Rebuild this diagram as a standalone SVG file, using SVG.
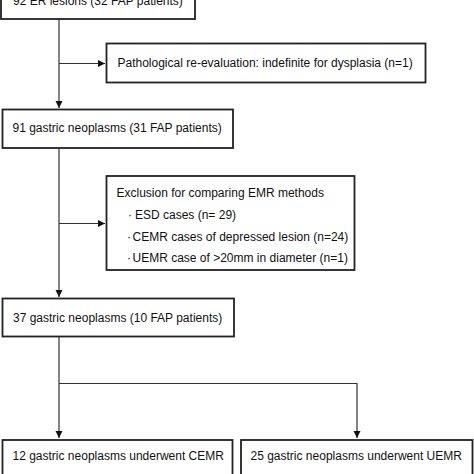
<svg xmlns="http://www.w3.org/2000/svg" width="474" height="474" viewBox="0 0 474 474">
<style>
.box{fill:#fff;stroke:#222;stroke-width:1.8}
.t{font-family:"Liberation Sans",Arial,sans-serif;font-size:12px;fill:#111}
.ln{fill:none;stroke:#333;stroke-width:1.2}
</style>
<defs>
<marker id="ah" markerWidth="8" markerHeight="8" refX="7" refY="4" orient="auto" markerUnits="userSpaceOnUse">
<path d="M0,0.5 L7,4 L0,7.5 Z" fill="#111"/>
</marker>
</defs>
<rect width="474" height="474" fill="#fff"/>
<g id="connectors">
<path class="ln" d="M59,19 V108" marker-end="url(#ah)"/>
<path class="ln" d="M59,63.5 H105" marker-end="url(#ah)"/>
<path class="ln" d="M59,148 V297" marker-end="url(#ah)"/>
<path class="ln" d="M59,223.5 H105" marker-end="url(#ah)"/>
<path class="ln" d="M59,337 V438" marker-end="url(#ah)"/>
<path class="ln" d="M59,383.5 H357 V438" marker-end="url(#ah)"/>
</g>
<g id="n1">
<rect class="box" x="1" y="-20" width="194" height="39"/>
<text class="t" x="13" y="4.5">92 ER lesions (32 FAP patients)</text>
</g>
<g id="n2">
<rect class="box" x="106.5" y="43.5" width="319" height="39"/>
<text class="t" x="117.5" y="67">Pathological re-evaluation: indefinite for dysplasia (n=1)</text>
</g>
<g id="n3">
<rect class="box" x="2.5" y="109.5" width="230.5" height="38.5"/>
<text class="t" x="12.5" y="131.5">91 gastric neoplasms (31 FAP patients)</text>
</g>
<g id="n4">
<rect class="box" x="106.5" y="176" width="248" height="94"/>
<text class="t" x="116.5" y="197">Exclusion for comparing EMR methods</text>
<text class="t" x="128" y="218.5">·<tspan x="135">ESD cases (n= 29)</tspan></text>
<text class="t" x="127" y="241">·<tspan x="132.5">CEMR cases of depressed lesion (n=24)</tspan></text>
<text class="t" x="127" y="262">·<tspan x="132.5">UEMR case of &gt;20mm in diameter (n=1)</tspan></text>
</g>
<g id="n5">
<rect class="box" x="2.5" y="298.5" width="231.5" height="38"/>
<text class="t" x="13" y="322">37 gastric neoplasms (10 FAP patients)</text>
</g>
<g id="n6">
<rect class="box" x="2.5" y="440" width="230" height="50"/>
<text class="t" x="12.5" y="460">12 gastric neoplasms underwent CEMR</text>
</g>
<g id="n7">
<rect class="box" x="241" y="440" width="231.5" height="50"/>
<text class="t" x="250.5" y="460">25 gastric neoplasms underwent UEMR</text>
</g>
</svg>
